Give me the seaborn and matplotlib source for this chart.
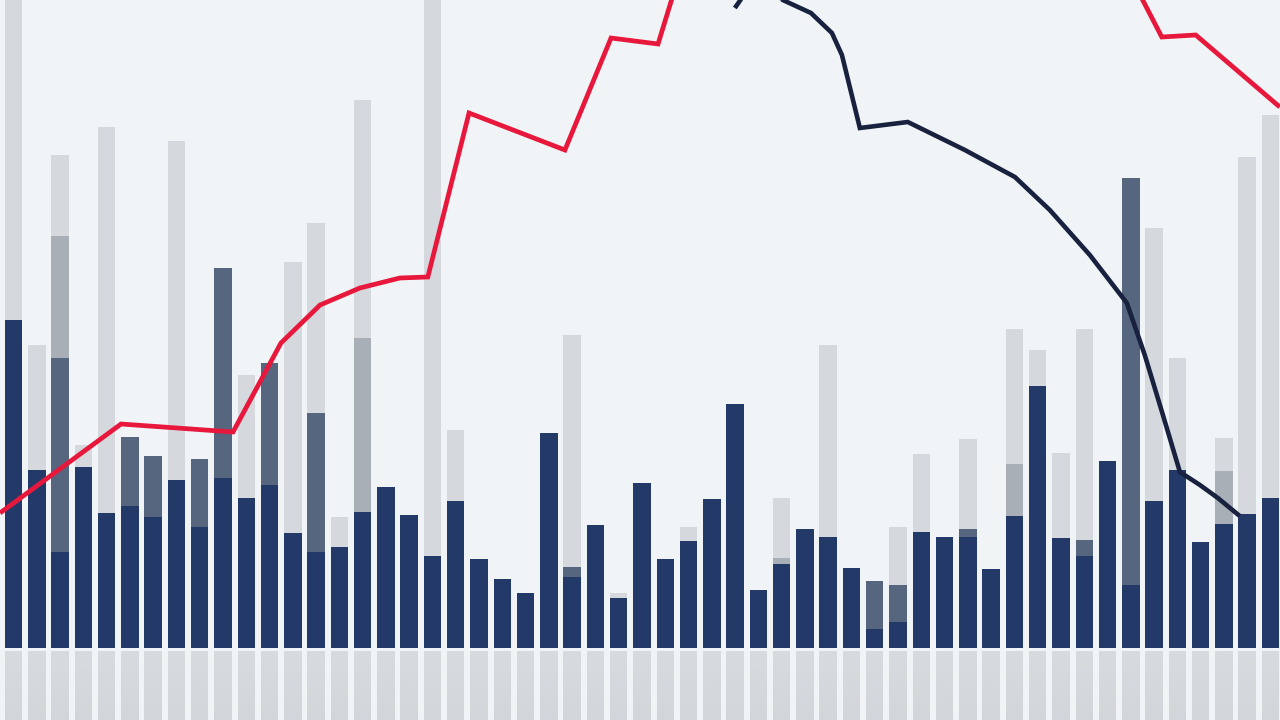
import numpy as np
import pandas as pd
import matplotlib
matplotlib.use("Agg")
import matplotlib.pyplot as plt
import seaborn as sns

# ---- data (heights above the baseline, arbitrary units) ----
periods = list(range(55))

navy = [328, 178, 96, 181, 135, 142, 131, 168, 121, 170, 150, 163, 115, 96, 101, 136,
        161, 133, 92, 147, 89, 69, 55, 215, 71, 123, 50, 165, 89, 107, 149, 244,
        58, 84, 119, 111, 80, 19, 26, 116, 111, 111, 79, 132, 262, 110, 92, 187,
        63, 147, 178, 106, 124, 134, 150]

slate = [0, 0, 290, 0, 0, 211, 192, 0, 189, 380, 0, 285, 0, 235, 0, 0,
         0, 0, 0, 0, 0, 0, 0, 0, 81, 0, 0, 0, 0, 0, 0, 0,
         0, 0, 0, 0, 0, 67, 63, 0, 0, 119, 0, 0, 0, 0, 108, 0,
         470, 0, 0, 0, 0, 0, 0]

gray = [0, 0, 412, 0, 0, 0, 0, 0, 0, 0, 0, 0, 0, 0, 0, 310,
        0, 0, 0, 0, 0, 0, 0, 0, 0, 0, 0, 0, 0, 0, 0, 0,
        0, 90, 0, 0, 0, 0, 0, 0, 0, 0, 0, 184, 0, 0, 0, 0,
        0, 0, 0, 0, 177, 0, 0]

light = [720, 303, 493, 203, 521, 0, 0, 507, 0, 0, 273, 0, 386, 425, 131, 548,
         0, 0, 720, 218, 0, 0, 0, 0, 313, 0, 55, 0, 0, 121, 0, 0,
         0, 150, 0, 303, 0, 0, 121, 194, 0, 209, 0, 319, 298, 195, 319, 0,
         0, 420, 290, 0, 210, 491, 533]

red_x = [-0.58, 4.62, 9.43, 11.49, 13.17, 14.88, 16.60, 17.80, 19.57, 23.69, 25.67,
         27.69, 29.06, 47.18, 49.33, 50.79, 54.40]
red_y = [135, 224, 216, 305, 343, 360, 370, 371, 535, 498, 610, 604, 708, 708,
         611, 613, 541]

blue_x = [30.99, 31.98, 33.05, 34.26, 35.16, 35.59, 36.36, 38.42, 40.87, 43.02, 44.52,
          46.24, 47.83, 48.60, 49.38, 50.11, 50.97, 51.74, 52.68]
blue_y = [640, 673, 648, 635, 615, 593, 520, 526, 498, 471, 438, 393, 345, 293, 233,
          176, 163, 150, 132]

# ---- style ----
BG = "#f1f4f6"
NAVY = "#233a69"
SLATE = "#55667e"
GRAY = "#a8afb7"
LIGHT = "#d5d9dd"
REFL = "#cfd3d7"
RED = "#e8173c"
LINE_NAVY = "#18223f"

sns.set_theme(style="white")
fig = plt.figure(figsize=(12.8, 7.2), dpi=100)
fig.patch.set_facecolor(BG)
ax = fig.add_axes([0, 0, 1, 1])
ax.set_facecolor(BG)

# reflection below the baseline
refl = [-80] * len(periods)
sns.barplot(x=periods, y=refl, color=REFL, width=0.75, native_scale=True,
            saturation=1, errorbar=None, linewidth=0, ax=ax)

# layered bars: tallest (lightest) drawn first
for vals, col in [(light, LIGHT), (gray, GRAY), (slate, SLATE), (navy, NAVY)]:
    sns.barplot(x=periods, y=vals, color=col, width=0.75, native_scale=True,
                saturation=1, errorbar=None, linewidth=0, ax=ax)

# soft fade on the reflection
grad = np.linspace(0, 1, 100).reshape(100, 1, 1)
rgba = np.concatenate([np.full((100, 1, 3), matplotlib.colors.to_rgb(BG)),
                       0.25 - 0.15 * grad], axis=2)
ax.imshow(rgba, extent=(-1, 56, -72, -3), aspect="auto", origin="upper", zorder=3)
ax.axhspan(-3, 0, color=BG, zorder=3, lw=0)

sns.lineplot(x=red_x, y=red_y, sort=False, estimator=None, color=RED,
             linewidth=3.4, ax=ax, zorder=5)
sns.lineplot(x=blue_x, y=blue_y, sort=False, estimator=None, color=LINE_NAVY,
             linewidth=3.3, ax=ax, zorder=5)
for l in ax.lines:
    l.set_solid_joinstyle("miter")
    l.set_solid_capstyle("butt")

ax.set_xlim(-0.58, 54.41)
ax.set_ylim(-72, 648)
ax.set_axis_off()

fig.savefig("out.png", dpi=100, facecolor=BG)
